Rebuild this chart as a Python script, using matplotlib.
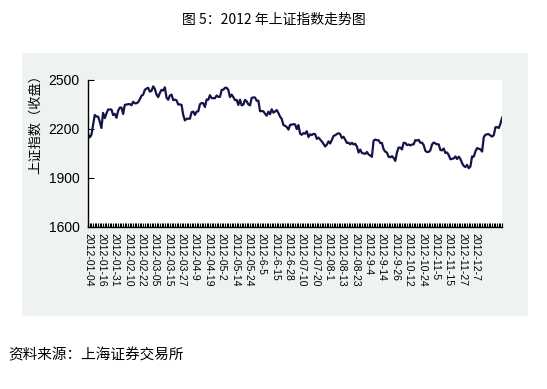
import matplotlib.pyplot as plt
from matplotlib.patches import Rectangle
from matplotlib.ticker import MultipleLocator

plt.rcParams['font.family'] = ['Liberation Sans', 'Noto Sans CJK SC', 'DejaVu Sans']

# Shanghai Composite daily close, 2012 (make-up working days repeat the last close)
jan = [2169.39, 2148.45, 2163.40, 2225.89, 2285.74, 2275.71, 2276.04, 2244.58, 2206.20,
       2298.38, 2266.13, 2294.44, 2319.12, 2319.12, 2319.12, 2285.05, 2292.61]
feb = [2268.08, 2311.00, 2330.41, 2331.13, 2291.44, 2347.53, 2349.05, 2351.98, 2351.86,
       2344.77, 2366.70, 2356.86, 2357.18, 2363.59, 2381.43, 2403.59, 2409.62, 2439.63,
       2447.06, 2451.98, 2428.49]
mar = [2433.34, 2460.69, 2445.59, 2410.45, 2394.79, 2420.24, 2439.46, 2434.85, 2454.88,
       2391.18, 2378.60, 2404.74, 2410.18, 2376.84, 2379.31, 2375.41, 2349.54, 2350.60,
       2347.18, 2284.88, 2252.16, 2262.79, 2262.79, 2262.79]
apr = [2302.24, 2306.55, 2285.78, 2305.86, 2308.05, 2350.86, 2359.16, 2357.03, 2334.11,
       2380.02, 2378.86, 2406.86, 2388.59, 2388.57, 2388.43, 2404.75, 2396.32, 2396.32]
may = [2438.44, 2440.08, 2452.00, 2451.90, 2438.63, 2394.87, 2410.23, 2394.98, 2376.32,
       2377.79, 2346.70, 2378.89, 2344.52, 2348.66, 2377.94, 2368.74, 2350.17, 2344.01,
       2389.96, 2393.16, 2392.10, 2372.23]
jun = [2373.44, 2308.55, 2309.57, 2308.31, 2293.13, 2281.40, 2305.86, 2290.06, 2320.39,
       2299.66, 2306.87, 2316.04, 2296.98, 2275.51, 2260.88, 2224.11, 2219.47, 2211.92,
       2195.84, 2225.43]
jul = [2226.11, 2229.58, 2227.30, 2199.08, 2223.59, 2170.81, 2164.45, 2174.50, 2171.40,
       2185.90, 2150.52, 2166.87, 2162.51, 2170.20, 2168.20, 2139.18, 2147.08, 2135.14,
       2123.38, 2109.08, 2092.77, 2103.63]
aug = [2123.85, 2111.16, 2132.80, 2157.54, 2161.51, 2168.81, 2174.10, 2168.36, 2144.64,
       2152.21, 2134.26, 2114.31, 2116.08, 2105.69, 2115.57, 2104.89, 2109.50, 2092.10,
       2055.74, 2073.81, 2053.19, 2050.06, 2047.52]
sep = [2059.15, 2043.65, 2037.68, 2029.38, 2127.76, 2135.04, 2130.66, 2131.21, 2113.55,
       2114.39, 2075.63, 2061.04, 2055.34, 2029.66, 2026.69, 2033.32, 2022.68, 2004.17,
       2056.32, 2086.17, 2086.17]
oct_ = [2074.42, 2115.21, 2114.40, 2101.43, 2104.93, 2099.37, 2104.34, 2105.89, 2131.81,
        2128.30, 2133.49, 2115.93, 2115.98, 2101.40, 2066.21, 2058.93, 2059.59, 2068.88]
nov = [2104.92, 2117.05, 2111.13, 2106.15, 2105.66, 2071.18, 2069.07, 2079.97, 2052.60,
       2056.21, 2040.10, 2014.73, 2016.80, 2020.12, 2031.45, 2016.19, 2030.29, 2016.44,
       1991.17, 1973.71, 1966.74, 1980.12]
dec = [1959.77, 1970.60, 2031.91, 2029.98, 2062.85, 2082.91, 2078.71, 2075.32, 2061.47,
       2150.39, 2164.26, 2167.40, 2168.00, 2159.48, 2153.31, 2162.39, 2210.47, 2211.15,
       2205.72, 2233.25, 2269.13]

closes = jan + feb + mar + apr + may + jun + jul + aug + sep + oct_ + nov + dec

tick_labels = ['2012-01-04', '2012-01-16', '2012-01-31', '2012-02-10', '2012-02-22',
               '2012-03-05', '2012-03-15', '2012-03-27', '2012-04-9', '2012-04-19',
               '2012-05-2', '2012-05-14', '2012-05-24', '2012-6-5', '2012-6-15',
               '2012-6-28', '2012-07-10', '2012-07-20', '2012-08-1', '2012-08-13',
               '2012-08-23', '2012-9-4', '2012-9-14', '2012-9-26', '2012-10-12',
               '2012-10-24', '2012-11-5', '2012-11-15', '2012-11-27', '2012-12-7']
y_ticks = [1600, 1900, 2200, 2500]

fig = plt.figure(figsize=(5.47, 3.89), dpi=100)

# light panel behind the chart
fig.add_artist(Rectangle((0.040, 0.188), 0.925, 0.676, transform=fig.transFigure,
                         facecolor='#eef3f0', edgecolor='none', zorder=-1))

ax = fig.add_axes([0.161, 0.4165, 0.757, 0.378])
ax.set_facecolor('white')
ax.set_zorder(2)

x = list(range(len(closes)))
ax.plot(x, closes, color='#14144a', linewidth=1.6)

ax.set_xlim(0, len(closes) - 1)
ax.set_ylim(1600, 2500)
ax.set_yticks(y_ticks)
ax.set_yticklabels([str(v) for v in y_ticks], fontsize=10)
ax.set_xticks(range(0, 8 * len(tick_labels), 8))
ax.set_xticklabels(tick_labels, rotation=-90, fontsize=7.5, ha='center', va='top')
ax.xaxis.set_minor_locator(MultipleLocator(1))
ax.tick_params(axis='x', which='both', direction='in', length=3, width=0.8, pad=4)
ax.tick_params(axis='y', direction='in', length=4, width=0.8, pad=6)

for side in ['top', 'right']:
    ax.spines[side].set_visible(False)
for side in ['left', 'bottom']:
    ax.spines[side].set_linewidth(1.0)
    ax.spines[side].set_color('black')

ax.set_ylabel('上证指数（收盘）', fontsize=9.5, family=['Noto Sans CJK SC', 'DejaVu Sans'])
ax.yaxis.set_label_coords(-0.112, 0.72)

fig.text(0.5, 0.948, '图 5：2012 年上证指数走势图', ha='center', va='center', fontsize=10,
         family=['Noto Sans CJK SC', 'DejaVu Sans'])
fig.text(0.015, 0.087, '资料来源：上海证券交易所', ha='left', va='center', fontsize=10.5,
         family=['Noto Sans CJK SC', 'DejaVu Sans'])

plt.savefig('out.png', dpi=100)
